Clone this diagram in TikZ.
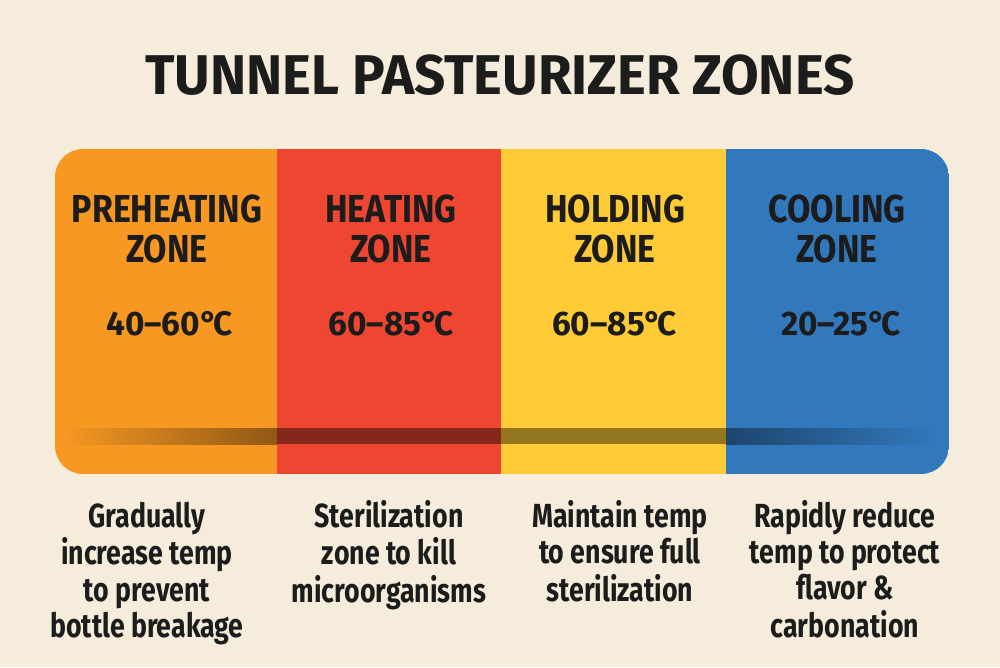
\documentclass[tikz,border=0pt]{standalone}
\usepackage{fontspec}
\newfontfamily\ttlfont[FakeStretch=0.975]{Fira Sans}
\newfontfamily\zonefont[FakeStretch=0.87]{Fira Sans}
\newfontfamily\tempfont[FakeStretch=0.98]{Fira Sans}
\newfontfamily\descfont[FakeStretch=0.8]{Fira Sans}
\newcommand\mlines[1]{\begin{tabular}[t]{@{}c@{}}#1\end{tabular}}
\newcommand\degc{°\kern-0.12em C}
\definecolor{bg}{RGB}{245,236,220}
\definecolor{zorange}{RGB}{247,152,34}
\definecolor{zred}{RGB}{238,70,49}
\definecolor{zyellow}{RGB}{254,203,54}
\definecolor{zblue}{RGB}{50,120,188}
\definecolor{ink}{RGB}{28,28,28}
\tikzset{
  txt/.style={anchor=base, inner sep=0pt, text=ink},
  ttl/.style={txt, font=\ttlfont\bfseries\fontsize{56}{60}\selectfont},
  zonettl/.style={txt, font=\zonefont\bfseries\fontsize{39}{40}\selectfont},
  temp/.style={txt, font=\tempfont\bfseries\fontsize{34}{36}\selectfont},
  desc/.style={txt, font=\descfont\bfseries\fontsize{33.4}{36.3}\selectfont}
}
\begin{document}
\begin{tikzpicture}[x=1pt,y=-1pt]
\fill[bg] (0,0) rectangle (1000,667);
\useasboundingbox (0,0) rectangle (1000,667);

\node[ttl] (title) at (500,94) {TUNNEL PASTEURIZER ZONES};

\begin{scope}
  \clip[rounded corners=28pt] (55,149) rectangle (949,474);
  \fill[zorange] (55,149) rectangle (277,474);
  \fill[zred] (277,149) rectangle (501,474);
  \fill[zyellow] (501,149) rectangle (726,474);
  \fill[zblue] (726,149) rectangle (949,474);
  % shadow band
  \shade[left color=zorange, right color=zorange!58!black] (62,428) rectangle (277,444);
  \fill[zred!56!black] (277,428) rectangle (501,444);
  \fill[zyellow!58!black] (501,428) rectangle (726,444);
  \shade[left color=zblue!58!black, right color=zblue] (726,428) rectangle (935,444);
\end{scope}

\node[zonettl] (z1) at (167,222) {\mlines{PREHEATING\\ZONE}};
\node[zonettl] (z2) at (391,222) {\mlines{HEATING\\ZONE}};
\node[zonettl] (z3) at (615,222) {\mlines{HOLDING\\ZONE}};
\node[zonettl] (z4) at (837,222) {\mlines{COOLING\\ZONE}};

\node[temp] (t1) at (169.5,335) {40–60\degc};
\node[temp] (t2) at (391,335) {60–85\degc};
\node[temp] (t3) at (614.5,335) {60–85\degc};
\node[temp] (t4) at (841,335) {20–25\degc};

\node[desc] (d1) at (147,527) {\mlines{Gradually\\increase temp\\to prevent\\bottle breakage}};
\node[desc] (d2) at (389,527) {\mlines{Sterilization\\zone to kill\\microorganisms}};
\node[desc] (d3) at (620,527) {\mlines{Maintain temp\\to ensure full\\sterilization}};
\node[desc] (d4) at (845,527) {\mlines{Rapidly reduce\\temp to protect\\flavor \&\\carbonation}};
\end{tikzpicture}
\end{document}
